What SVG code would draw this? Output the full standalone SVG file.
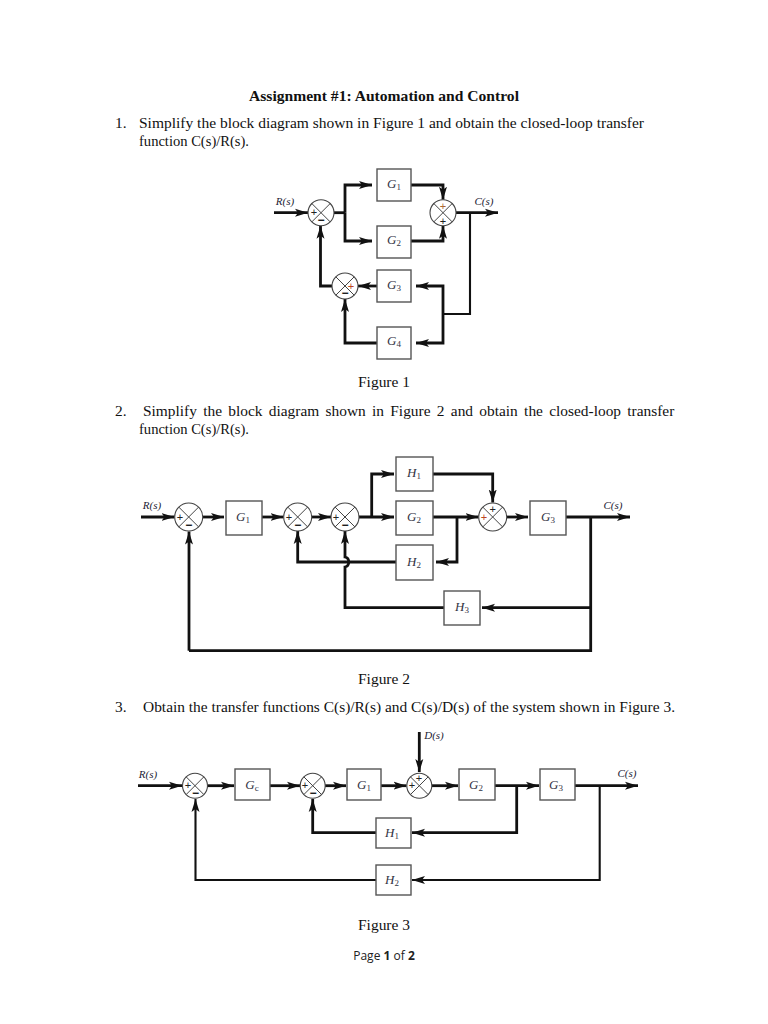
<svg xmlns="http://www.w3.org/2000/svg" width="768" height="1024" viewBox="0 0 768 1024">
<style>
.t{font-family:"Liberation Serif","Times New Roman",serif;font-size:15.4px;fill:#111}
.b{font-weight:bold}
.l{font-family:"Liberation Serif","Times New Roman",serif;font-style:italic;font-size:11px;fill:#223;text-anchor:middle}
.n{font-family:"Liberation Serif","Times New Roman",serif;font-style:italic;font-size:13px;fill:#334;text-anchor:middle}
.n tspan{font-size:9px;font-style:normal}
.s{font-family:"Liberation Sans",Arial,sans-serif;font-size:11px;fill:#222;text-anchor:middle}
.m{font-family:"Liberation Sans",Arial,sans-serif;font-size:12px;font-weight:bold;fill:#111;text-anchor:middle}
.box{fill:#fff;stroke:#555;stroke-width:1.4}
.c{fill:none;stroke:#111;stroke-width:2.8;stroke-linejoin:miter}
.w{stroke-width:2.1}
.a{marker-end:url(#ah)}
.sum{fill:#fff;stroke:#444;stroke-width:1.1}
.x{stroke:#444;stroke-width:1}
</style>
<defs>
<marker id="ah" markerUnits="userSpaceOnUse" markerWidth="14" markerHeight="9" refX="13" refY="4.500" orient="auto"><path d="M0 0.500L13 4.500L0 8.500L3 4.500Z" fill="#111"/></marker>
<g id="sj13"><circle class="sum" r="13"/><path class="x" d="M-9.200-9.200L9.200 9.200M-9.200 9.200L9.200-9.200"/></g>
<g id="sj14"><circle class="sum" r="14"/><path class="x" d="M-9.900-9.900L9.900 9.900M-9.900 9.900L9.900-9.900"/></g>
<g id="sj12"><circle class="sum" r="12.500"/><path class="x" d="M-8.800-8.800L8.800 8.800M-8.800 8.800L8.800-8.800"/></g>
</defs>
<rect width="768" height="1024" fill="#fff"/>

<g id="page-text">
<text class="t b" x="249" y="101" textLength="270" lengthAdjust="spacingAndGlyphs">Assignment #1: Automation and Control</text>
<text class="t" x="115" y="128">1.</text>
<text class="t" x="139" y="128" textLength="505" lengthAdjust="spacingAndGlyphs">Simplify the block diagram shown in Figure 1 and obtain the closed-loop transfer</text>
<text class="t" x="139" y="146" textLength="110" lengthAdjust="spacingAndGlyphs">function C(s)/R(s).</text>
<text class="t" x="358" y="387" textLength="52" lengthAdjust="spacingAndGlyphs">Figure 1</text>
<text class="t" x="115" y="416">2.</text>
<text class="t" x="143" y="416" word-spacing="2.460">Simplify the block diagram shown in Figure 2 and obtain the closed-loop transfer</text>
<text class="t" x="139" y="434" textLength="110" lengthAdjust="spacingAndGlyphs">function C(s)/R(s).</text>
<text class="t" x="358" y="684" textLength="52" lengthAdjust="spacingAndGlyphs">Figure 2</text>
<text class="t" x="115" y="712">3.</text>
<text class="t" x="143" y="712" textLength="532" lengthAdjust="spacingAndGlyphs">Obtain the transfer functions C(s)/R(s) and C(s)/D(s) of the system shown in Figure 3.</text>
<text class="t" x="358" y="930" textLength="52" lengthAdjust="spacingAndGlyphs">Figure 3</text>
<text x="384" y="960" text-anchor="middle" font-family="'Open Sans','Noto Sans',sans-serif" font-size="12" fill="#222">Page <tspan font-weight="bold">1</tspan> of <tspan font-weight="bold">2</tspan></text>
</g>

<g id="connectors">
<!-- Figure 1 -->
<path class="c a" d="M274 212.700H308"/>
<path class="c" d="M334 212.700H345"/>
<path class="c a" d="M345 212.700V185H372"/>
<path class="c a" d="M345 212.700V241H372"/>
<path class="c a" d="M411 185H443V199.700"/>
<path class="c a" d="M411 241H443V225.700"/>
<path class="c a" d="M456 212.700H498"/>
<path class="c w" d="M470 212.700V314H443"/>
<path class="c a" d="M443 314V343H416"/>
<path class="c a" d="M443 314V286H416"/>
<path class="c a" d="M377 286H358"/>
<path class="c a" d="M332 286H320.500V225.700"/>
<path class="c a" d="M377 343H345V299"/>
<!-- Figure 2 -->
<path class="c a" d="M141 517H174.500"/>
<path class="c a" d="M203 517H224"/>
<path class="c a" d="M262 517H283.500"/>
<path class="c a" d="M312 517H331"/>
<path class="c a" d="M359 517H394"/>
<path class="c a" d="M371.700 517V474H394"/>
<path class="c a" d="M433 474H492.700V502.500"/>
<path class="c a" d="M433 517H478.500"/>
<path class="c a" d="M457 517V562H436"/>
<path class="c a" d="M396 562H297.700V531"/>
<path class="c a" d="M444 607.700H345V567C350 566 350 558 345 557V531"/>
<path class="c a" d="M507 517H528"/>
<path class="c a" d="M566 517H630"/>
<path class="c" d="M590.700 517V650.700H189"/>
<path class="c a" d="M590.700 607.700H482"/>
<path class="c a" d="M189 650.700V531.500"/>
<!-- Figure 3 -->
<path class="c a" d="M138 785.700H182"/>
<path class="c a" d="M208 785.700H234"/>
<path class="c a" d="M270 785.700H300"/>
<path class="c a" d="M325 785.700H346"/>
<path class="c a" d="M381 785.700H406.500"/>
<path class="c a" d="M432 785.700H458"/>
<path class="c a" d="M495 785.700H539"/>
<path class="c a" d="M575 785.700H638"/>
<path class="c a" d="M419.300 732V772"/>
<path class="c a" d="M516.700 785.700V832.700H412"/>
<path class="c w a" d="M599.700 785.700V880H412"/>
<path class="c a" d="M376 832.700H312.700V799"/>
<path class="c w a" d="M376 880H195.500V799"/>
</g>

<g id="fig1-labels">
<text class="l" x="285" y="205">R(s)</text>
<text class="l" x="484" y="205">C(s)</text>
</g>
<g id="fig1-G1"><rect class="box" x="377" y="169" width="34" height="32"/><text class="n" x="394" y="188">G<tspan dy="2">1</tspan></text></g>
<g id="fig1-G2"><rect class="box" x="377" y="226" width="34" height="32"/><text class="n" x="394" y="244">G<tspan dy="2">2</tspan></text></g>
<g id="fig1-G3"><rect class="box" x="377" y="270" width="34" height="32"/><text class="n" x="394" y="289">G<tspan dy="2">3</tspan></text></g>
<g id="fig1-G4"><rect class="box" x="377" y="327" width="34" height="32"/><text class="n" x="394" y="345">G<tspan dy="2">4</tspan></text></g>
<g id="fig1-S1"><use href="#sj13" x="321" y="212.700"/><text class="s" x="314" y="216">+</text><text class="m" x="321" y="224">−</text></g>
<g id="fig1-S2"><use href="#sj13" x="443" y="212.700"/><text class="s" x="443" y="210" style="fill:#a63">+</text><text class="s" x="443" y="225">+</text></g>
<g id="fig1-S3"><use href="#sj13" x="345" y="286"/><text class="s" x="351" y="290" style="fill:#b42">+</text><text class="m" x="345" y="297">−</text></g>

<g id="fig2-labels">
<text class="l" x="152" y="509">R(s)</text>
<text class="l" x="613" y="509">C(s)</text>
</g>
<g id="fig2-G1"><rect class="box" x="226" y="501" width="36" height="34"/><text class="n" x="243" y="521">G<tspan dy="2">1</tspan></text></g>
<g id="fig2-H1"><rect class="box" x="396" y="457" width="37" height="34"/><text class="n" x="414" y="477">H<tspan dy="2">1</tspan></text></g>
<g id="fig2-G2"><rect class="box" x="396" y="501" width="37" height="34"/><text class="n" x="414" y="521">G<tspan dy="2">2</tspan></text></g>
<g id="fig2-H2"><rect class="box" x="396" y="545" width="37" height="35"/><text class="n" x="414" y="566">H<tspan dy="2">2</tspan></text></g>
<g id="fig2-G3"><rect class="box" x="530" y="501" width="36" height="34"/><text class="n" x="548" y="521">G<tspan dy="2">3</tspan></text></g>
<g id="fig2-H3"><rect class="box" x="444" y="591" width="36" height="34"/><text class="n" x="462" y="611">H<tspan dy="2">3</tspan></text></g>
<g id="fig2-S1"><use href="#sj14" x="188.700" y="517"/><text class="s" x="180" y="521">+</text><text class="m" x="188.700" y="529">−</text></g>
<g id="fig2-S2"><use href="#sj14" x="297.700" y="517"/><text class="s" x="289" y="521">+</text><text class="m" x="297.700" y="529">−</text></g>
<g id="fig2-S3"><use href="#sj14" x="345" y="517"/><text class="s" x="336" y="521">+</text><text class="m" x="345" y="529">−</text></g>
<g id="fig2-S4"><use href="#sj14" x="492.700" y="517"/><text class="s" x="492.700" y="513">+</text><text class="s" x="484" y="521" style="fill:#b42">+</text></g>

<g id="fig3-labels">
<text class="l" x="148" y="778">R(s)</text>
<text class="l" x="627" y="777">C(s)</text>
<text class="l" x="434" y="739">D(s)</text>
</g>
<g id="fig3-Gc"><rect class="box" x="235" y="769" width="35" height="31"/><text class="n" x="252" y="789">G<tspan dy="2">c</tspan></text></g>
<g id="fig3-G1"><rect class="box" x="347" y="769" width="34" height="31"/><text class="n" x="364" y="789">G<tspan dy="2">1</tspan></text></g>
<g id="fig3-G2"><rect class="box" x="459" y="769" width="36" height="31"/><text class="n" x="476" y="789">G<tspan dy="2">2</tspan></text></g>
<g id="fig3-G3"><rect class="box" x="540" y="769" width="35" height="31"/><text class="n" x="556" y="789">G<tspan dy="2">3</tspan></text></g>
<g id="fig3-H1"><rect class="box" x="376" y="818" width="35" height="30"/><text class="n" x="392" y="837">H<tspan dy="2">1</tspan></text></g>
<g id="fig3-H2"><rect class="box" x="376" y="865" width="35" height="30"/><text class="n" x="392" y="884">H<tspan dy="2">2</tspan></text></g>
<g id="fig3-S1"><use href="#sj12" x="195" y="785.700"/><text class="s" x="188" y="789">+</text><text class="m" x="195.500" y="797">−</text></g>
<g id="fig3-S2"><use href="#sj12" x="312.700" y="785.700"/><text class="s" x="305" y="789">+</text><text class="m" x="313" y="797">−</text></g>
<g id="fig3-S3"><use href="#sj12" x="419.300" y="785.700"/><text class="s" x="419" y="782">+</text><text class="s" x="412" y="789">+</text></g>
</svg>
